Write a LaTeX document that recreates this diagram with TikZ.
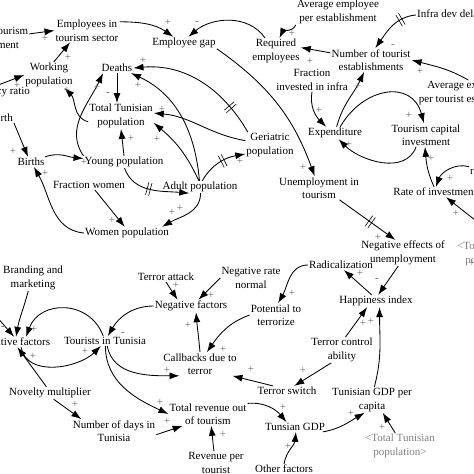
\documentclass[tikz,border=0pt]{standalone}
\usepackage{fontspec}
\setmainfont{Liberation Serif}
\usetikzlibrary{arrows.meta,decorations.markings}

\begin{document}
\begin{tikzpicture}[x=1pt, y=1pt,
        var/.style={align=center, inner sep=1pt, font=\fontsize{11}{13.5}\selectfont},
        shadowvar/.style={var, text=gray},
        pol/.style={inner sep=0pt, text=gray!80!black, font=\fontsize{11}{11}\selectfont},
        arrow/.style={-{Latex[length=10pt,width=7pt]}, line width=0.85pt},
        delay/.style={postaction={decorate, decoration={markings, mark=at position #1 with {\draw[-, line width=0.6pt] (-1.6pt,-6.5pt) -- (-1.6pt,6.5pt) (1.6pt,-6.5pt) -- (1.6pt,6.5pt);}}}}
    ]
        \useasboundingbox (0,0) rectangle (474,-474);

        % employment and establishments
        \node[var] (share) at (-8.5,-39) {Share of tourism\\employment};
        \node[var] (emp) at (87,-30.5) {Employees in\\tourism sector};
        \node[var] (gap) at (184,-43) {Employee gap};
        \node[var] (req) at (276,-51) {Required\\employees};
        \node[var] (avgemp) at (338,-12) {Average employee\\per establishment};
        \node[var, anchor=west] (infra) at (416,-15) {Infra dev delay};
        \node[var] (numest) at (371,-60) {Number of tourist\\establishments};
        \node[var] (frac) at (312,-80) {Fraction\\invested in infra};
        \node[var] (avgtour) at (473,-93) {Average expenditure\\per tourist establishment};
        \node[var] (expend) at (335,-133) {Expenditure};
        \node[var] (capinv) at (426,-135) {Tourism capital\\investment};
        \node[var] (rate) at (435,-192) {Rate of investment};
        \node[var, anchor=west] (rtn) at (469,-171) {rate};
        \coordinate (rin) at (480,-224);
        \node[var] (unemp) at (319,-188) {Unemployment in\\tourism};

        % population
        \node[var] (work) at (49,-75) {Working\\population};
        \node[var] (dep) at (-9,-92) {Dependency ratio};
        \node[var] (deaths) at (117,-68) {Deaths};
        \node[var] (totpop) at (121,-116) {Total Tunisian\\population};
        \node[var] (birthrt) at (-15,-118) {Rate of birth};
        \node[var] (births) at (31,-162) {Births};
        \node[var] (young) at (124,-162) {Young population};
        \node[var] (fracw) at (89,-185) {Fraction women};
        \node[var] (adult) at (200,-187) {Adult population};
        \node[var] (women) at (127,-233) {Women population};
        \node[var] (geri) at (270,-145) {Geriatric\\population};

        % terror and happiness
        \node[var] (negeff) at (403,-253) {Negative effects of\\unemployment};
        \node[shadowvar, anchor=north west] (shpop1) at (456,-241) {<Total Tunisian\\population>};
        \node[var] (rad) at (341,-265) {Radicalization};
        \node[var] (negrate) at (251,-278) {Negative rate\\normal};
        \node[var] (happy) at (376,-301) {Happiness index};
        \node[var] (poten) at (276,-315) {Potential to\\terrorize};
        \node[var] (tca) at (342,-350) {Terror control\\ability};
        \node[var] (tsw) at (287,-391) {Terror switch};

        % tourists and revenue
        \node[var] (brand) at (33,-278) {Branding and\\marketing};
        \node[var] (tatt) at (166,-277) {Terror attack};
        \node[var] (negf) at (191,-306) {Negative factors};
        \node[var] (posf) at (16,-342) {Positive factors};
        \coordinate (posin) at (-4,-316);
        \node[var] (tour) at (105,-341) {Tourists in Tunisia};
        \node[var] (cbk) at (200,-364) {Callbacks due to\\terror};
        \node[var] (novel) at (50,-393) {Novelty multiplier};
        \node[var] (days) at (114,-431) {Number of days in\\Tunisia};
        \node[var] (totrev) at (208,-414) {Total revenue out\\of tourism};
        \node[var] (revpt) at (216,-463) {Revenue per\\tourist};
        \node[var] (gdp) at (295,-427) {Tunsian GDP};
        \node[var] (other) at (284,-469) {Other factors};
        \node[var] (gdppc) at (372,-400) {Tunisian GDP per\\capita};
        \node[shadowvar] (shpop) at (400,-446) {<Total Tunisian\\population>};

        % links
        \draw[arrow] (share) -- (emp.west);
        \draw[arrow] (work.70) -- (emp.215);
        \draw[arrow] (dep.50) -- (work.west);
        \draw[arrow] (emp.15) to[out=0,in=145] (gap.150);
        \draw[arrow] (req.130) to[out=125,in=40] (gap.55);
        \draw[arrow] (gap.-10) to[out=-35,in=110] (unemp.110);
        \draw[arrow] (avgemp.south west) to[out=-115,in=65] (req.75);
        \draw[arrow] (numest.170) -- (req.8);
        \draw[arrow, delay=0.3] (infra.west) to[out=185,in=55] (numest.70);
        \draw[arrow] (avgtour.110) to[out=150,in=-15] (numest.east);
        \draw[arrow] (frac.south) to[out=-100,in=135] (expend.145);
        \draw[arrow] (expend.75) to[out=75,in=-115] (numest.240);
        \draw[arrow] (expend.50) to[out=60,in=105,looseness=1.4] (capinv.100);
        \draw[arrow] (capinv.230) to[out=-110,in=-45] (expend.300);
        \draw[arrow] (rate.100) to[out=115,in=-85] (capinv.265);
        \draw[arrow] (rtn.north west) to[out=165,in=70] (rate.80);
        \draw[arrow] (rin) -- (rate.-25);
        \draw[arrow, delay=0.55] (unemp.-30) -- (negeff.120);

        \draw[arrow] (totpop.190) to[out=165,in=-45] (work.-40);
        \draw[arrow] (births.20) to[out=20,in=175] (young.175);
        \draw[arrow] (birthrt.south east) -- (births.120);
        \draw[arrow] (women.west) to[out=175,in=-60] (births.-60);
        \draw[arrow] (fracw.-40) -- (women.110);
        \draw[arrow] (adult.-85) to[out=-90,in=30] (women.10);
        \draw[arrow, delay=0.45] (young.-85) to[out=-70,in=175] (adult.210);
        \draw[arrow] (young.north) -- (totpop.south);
        \draw[arrow] (adult.100) to[out=115,in=-40] (totpop.-12);
        \draw[arrow] (adult.95) to[out=95,in=-25] (deaths.-20);
        \draw[arrow, delay=0.22] (geri.150) to[out=120,in=5] (deaths.east);
        \draw[arrow] (geri.170) to[out=170,in=-5] (totpop.5);
        \draw[arrow, delay=0.55] (adult.70) to[out=60,in=190] (geri.200);
        \draw[arrow] (deaths.south) -- (deaths.south |- totpop.north);
        \draw[arrow] (young.north west) to[out=125,in=-115] (deaths.200);

        \draw[arrow] (negeff.250) -- (happy.70);
        \draw[arrow] (happy.125) -- (rad.-60);
        \draw[arrow] (rad.west) to[out=180,in=60] (poten.80);
        \draw[arrow] (tca.75) -- (happy.215);
        \draw[arrow] (gdppc.80) to[out=75,in=-90] (happy.-60);
        \draw[arrow] (tca.230) -- (tsw.35);
        \draw[arrow] (tsw.160) -- (cbk.-20);
        \draw[arrow] (poten.west) to[out=200,in=55] (cbk.60);
        \draw[arrow] (cbk.north) to[out=95,in=-85] ([xshift=5pt]negf.south);
        \draw[arrow] (tatt.south) -- (negf.155);
        \draw[arrow] (negrate.west) -- (negf.40);

        \draw[arrow] (negf.west) to[out=180,in=60] (tour.60);
        \draw[arrow] (tour.110) to[out=110,in=70,looseness=1.3] (posf.27);
        \draw[arrow] (brand.250) to[out=-105,in=80] (posf.north);
        \draw[arrow] (posin) -- (posf.110);
        \draw[arrow] (posf.-45) to[out=-80,in=-135] (tour.230);
        \draw[arrow] (novel.120) -- (posf.-75);
        \draw[arrow] (novel.-60) -- (days.160);
        \draw[arrow] (tour.-65) to[out=-80,in=180] (cbk.210);
        \draw[arrow] (tour.-85) to[out=-90,in=155] (totrev.west);
        \draw[arrow] (days.-5) -- (totrev.205);
        \draw[arrow] (revpt.100) -- (totrev.-75);
        \draw[arrow] (totrev.15) to[out=5,in=130] (gdp.150);
        \draw[arrow] (other.north) to[out=80,in=-95] (gdp.-80);
        \draw[arrow] (gdp.-10) to[out=10,in=-150] (gdppc.-120);
        \draw[arrow] (shpop.110) -- (gdppc.-50);

        % polarities
        \foreach \px/\py/\s [count=\i] in {45/38/+, 168/22/+, 197/23/-, 68/57/+, 143/60/+, 97/87/+, 108/94/-, 138/85/+, 17/85/+, 67/90/+, 162/109/+,
            292/33/+, 310/61/+, 393/46/-, 420/71/+, 358/86/+, 319/110/+, 409/115/+, 349/144/+, 431/158/+, 450/178/+, 456/213/+, 303/167/+, 240/161/+, 378/237/+, 472/263/+,
            13/151/+, 45/173/+, 84/162/+, 131/138/+, 157/139/+, 172/212/+, 180/208/+, 112/220/+,
            176/285/+, 211/295/+, 123/334/-, 34/329/+, 3/328/-, 188/325/+, 85/351/+, 33/356/+, 223/349/+,
            377/280/-, 360/273/+, 292/293/+, 363/323/+, 371/321/+,
            167/370/+, 251/369/+, 303/370/+, 160/402/+, 283/407/+, 75/404/+, 167/421/+, 223/434/+, 351/413/+, 382/427/+, 288/446/+}
            \node[pol] (pol\i) at (\px,-\py) {\s};
    \end{tikzpicture}
\end{document}
